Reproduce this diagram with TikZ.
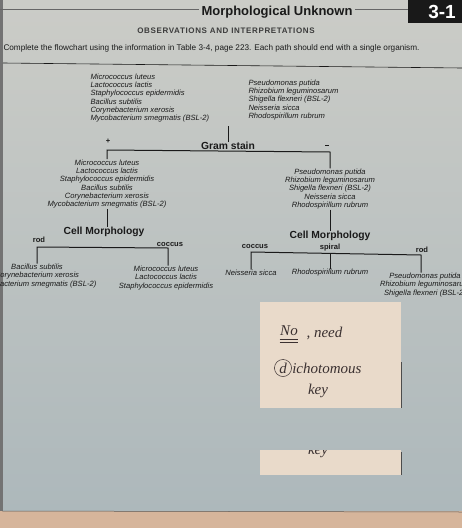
\documentclass[tikz,border=0pt]{standalone}
\usepackage{fontspec}
\setmainfont{Liberation Sans}
\newfontfamily\spacedcaps[LetterSpace=8]{Liberation Sans}
\newfontfamily\handfont{Liberation Serif}
\usepackage{tikz}

\definecolor{paper}{HTML}{CBCCC7}
\definecolor{papermid}{HTML}{C3C6C3}
\definecolor{paperlow}{HTML}{ADB8BB}
\definecolor{desk}{HTML}{D6B59B}
\definecolor{ink}{HTML}{1A1A1A}
\definecolor{sticky}{HTML}{E9DACA}
\definecolor{pen}{HTML}{3B3131}

\begin{document}
\begin{tikzpicture}
[x=1pt,y=-1pt,line width=1pt,draw=ink,
  species/.style={font=\fontsize{7.6}{8.3}\selectfont\itshape,text=ink,inner sep=0pt},
  heading/.style={font=\fontsize{10.3}{12}\selectfont\bfseries,text=ink,inner sep=0pt},
  branch/.style={font=\fontsize{7.6}{9}\selectfont\bfseries,text=ink,inner sep=0pt},
  hand/.style={font=\handfont\itshape\fontsize{15}{16}\selectfont,text=pen,inner sep=0pt}]
  \useasboundingbox (0,0) rectangle (462,528);
  \clip (0,0) rectangle (462,528);

  % photo of the sheet
  \shade[top color=paper,middle color=papermid,bottom color=paperlow] (0,0) rectangle (462,512);
  \fill[desk] (0,511) rectangle (462,528);
  \fill[black!55] (0,0) rectangle (2.5,511);
  \draw[line width=0.5pt,gray!70!black] (2.5,511) -- (462,512);
  \draw[line width=0.6pt] (3,63) -- (462,68);

  % header
  \fill[black!90] (408,0) rectangle (462,23);
  \node[text=white,font=\fontsize{19}{20}\selectfont\bfseries,inner sep=0pt] (sect) at (442,12) {3-1};
  \node[font=\fontsize{13}{14}\selectfont\bfseries,text=ink,inner sep=2pt] (title) at (277,12) {Morphological Unknown};
  \draw[line width=0.5pt,gray!80!black] (0,9) -- (title.west|-0,9);
  \draw[line width=0.5pt,gray!80!black] (title.east|-0,9) -- (408,9);
  \node[font=\spacedcaps\bfseries\fontsize{8}{10}\selectfont,text=ink!85,inner sep=0pt] (obs) at (226,31) {OBSERVATIONS AND INTERPRETATIONS};
  \node[font=\fontsize{8.2}{9}\selectfont,text=ink,inner sep=0pt,anchor=west] (instr) at (3,48)
    {Complete the flowchart using the information in Table 3-4, page 223. Each path should end with a single organism.};

  % all organisms
  \node[species,align=left,anchor=west] (poolgp) at (90,98)
    {Micrococcus luteus\\Lactococcus lactis\\Staphylococcus epidermidis\\Bacillus subtilis\\Corynebacterium xerosis\\Mycobacterium smegmatis (BSL-2)};
  \node[species,align=left,anchor=west] (poolgn) at (248,100)
    {Pseudomonas putida\\Rhizobium leguminosarum\\Shigella flexneri (BSL-2)\\Neisseria sicca\\Rhodospirillum rubrum};
  \coordinate (pooltail) at (228,126);

  \node[heading] (gram) at (228,146) {Gram stain};
  \node[branch] (plus) at (108,141) {+};
  \node[branch] (minus) at (327,145) {\rule{4pt}{1pt}};
  \coordinate (gpos) at (107,150);
  \coordinate (gneg) at (330,152);

  \node[species,align=center] (gp) at (107,184)
    {Micrococcus luteus\\Lactococcus lactis\\Staphylococcus epidermidis\\Bacillus subtilis\\Corynebacterium xerosis\\Mycobacterium smegmatis (BSL-2)};
  \node[species,align=center] (gn) at (330,189)
    {Pseudomonas putida\\Rhizobium leguminosarum\\Shigella flexneri (BSL-2)\\Neisseria sicca\\Rhodospirillum rubrum};

  % gram positive side
  \node[heading] (cml) at (104,232) {Cell Morphology};
  \node[branch] (rodl) at (39,240) {rod};
  \node[branch] (cocl) at (170,244) {coccus};
  \coordinate (lrod) at (37,247);
  \coordinate (lcoc) at (168,248);
  \node[species,align=center] (rodleaf) at (37,276)
    {Bacillus subtilis\\Corynebacterium xerosis\\Mycobacterium smegmatis (BSL-2)};
  \node[species,align=center] (cocleaf) at (166,278)
    {Micrococcus luteus\\Lactococcus lactis\\Staphylococcus epidermidis};

  % gram negative side
  \node[heading] (cmr) at (330,236) {Cell Morphology};
  \node[branch] (cocr) at (255,246) {coccus};
  \node[branch] (spir) at (330,248) {spiral};
  \node[branch] (rodr) at (422,250) {rod};
  \coordinate (rcoc) at (251,252);
  \coordinate (rspi) at (330,253);
  \coordinate (rrod) at (421,255);
  \node[species] (neis) at (251,273) {Neisseria sicca};
  \node[species] (rhodo) at (330,273) {Rhodospirillum rubrum};
  \node[species,align=center] (pseud) at (425,285)
    {Pseudomonas putida\\Rhizobium leguminosarum\\Shigella flexneri (BSL-2)};

  \foreach \from/\to in {pooltail/gram.north, gp.south/gp.south|-cml.north, gn.south/cmr.north, rspi/rhodo.north}
    \draw (\from) -- (\to);
  \draw (gpos|-gp.north) -- (gpos) -- (gneg) -- (gneg|-gn.north);
  \draw (lrod|-rodleaf.north) -- (lrod) -- (lcoc) -- (lcoc|-cocleaf.north);
  \draw (rcoc|-neis.north) -- (rcoc) -- (rrod) -- (rrod|-pseud.north);

  % sticky notes
  \fill[sticky] (260,302) rectangle (401,408);
  \draw[line width=0.6pt,black!70] (401,362) -- (401,408);
  \node[hand] (no) at (289,331) {No};
  \node[hand,anchor=west] (need) at (306,333) {, need};
  \draw[pen,line width=0.6pt] ([yshift=-3]no.south west) -- ([yshift=-3]no.south east);
  \draw[pen,line width=0.6pt] ([yshift=-6]no.south west) -- ([yshift=-6]no.south east);
  \node[hand,circle,draw=pen,line width=0.5pt,inner sep=1.5pt] (dee) at (283,368) {d};
  \node[hand,anchor=west] (chot) at (dee.east) {ichotomous};
  \node[hand] (key) at (318,391) {key};

  \begin{scope}
    \clip (260,450) rectangle (401,475);
    \fill[sticky] (260,450) rectangle (401,475);
    \node[hand] (keytwo) at (318,451) {key};
  \end{scope}
  \draw[line width=0.6pt,black!70] (401,452) -- (401,475);
\end{tikzpicture}
\end{document}
